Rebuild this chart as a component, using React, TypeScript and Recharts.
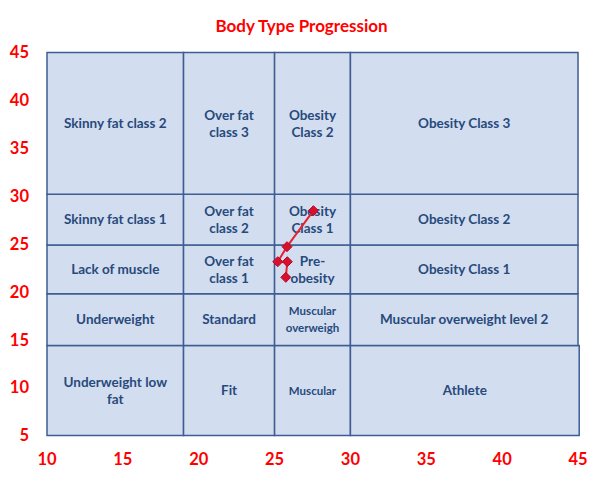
import React from "react";
import { LineChart, Line, XAxis, YAxis, ReferenceArea } from "recharts";

const TITLE = "Body Type Progression";
const X_TICKS = [10, 15, 20, 25, 30, 35, 40, 45];
const Y_TICKS = [5, 10, 15, 20, 25, 30, 35, 40, 45];
const X_BOUNDS = [10, 19, 25, 30, 45];
const Y_BOUNDS = [5, 14.4, 19.8, 24.9, 30.2, 45];
const BOTTOM_ROW_RIGHT = 45.08;

// rows listed from bottom to top, columns left to right
const ROW_LABELS: string[][][] = [
  [["Underweight low", "fat"], ["Fit"], ["Muscular"], ["Athlete"]],
  [["Underweight"], ["Standard"], ["Muscular", "overweigh"], ["Muscular overweight level 2"]],
  [["Lack of muscle"], ["Over fat", "class 1"], ["Pre-", "obesity"], ["Obesity Class 1"]],
  [["Skinny fat class 1"], ["Over fat", "class 2"], ["Obesity", "Class 1"], ["Obesity Class 2"]],
  [["Skinny fat class 2"], ["Over fat", "class 3"], ["Obesity", "Class 2"], ["Obesity Class 3"]],
];
const SMALL_LABELS = ["Muscular", "Muscular overweigh"];

const PROGRESS_X = [27.56, 25.82, 25.21, 25.84, 25.74];
const PROGRESS_Y = [28.48, 24.72, 23.15, 23.15, 21.52];

const progressData = PROGRESS_X.map((x, i) => ({ x, y: PROGRESS_Y[i] }));

const FONT = "Lato, 'Open Sans', sans-serif";
const RED = "#FF0000";
const TEXT_BLUE = "#284A7B";
const CELL_FILL = "#D2DDF0";
const CELL_STROKE = "#3E5E93";

const CellLabel = (props: any) => {
  const { viewBox, lines } = props;
  if (!viewBox) return null;
  const { x, y, width, height } = viewBox;
  const cx = x + width / 2;
  const cy = y + height / 2;
  const small = SMALL_LABELS.includes(lines.join(" "));
  const fs = small ? 11.5 : 13.5;
  const lh = 17;
  const startY = cy - ((lines.length - 1) * lh) / 2;
  return (
    <text
      textAnchor="middle"
      fontFamily={FONT}
      fontWeight="bold"
      fontSize={fs}
      fill={TEXT_BLUE}
    >
      {lines.map((l: string, i: number) => (
        <tspan key={i} x={cx} y={startY + i * lh} dy="0.35em">
          {l}
        </tspan>
      ))}
    </text>
  );
};

const Diamond = (props: any) => {
  const { cx, cy } = props;
  if (cx == null || cy == null) return null;
  const r = 5;
  return (
    <path
      d={`M${cx},${cy - r} L${cx + r},${cy} L${cx},${cy + r} L${cx - r},${cy} Z`}
      fill="#D8102E"
      stroke="#B00A28"
      strokeWidth={1}
    />
  );
};

export default function App() {
  const areas: React.ReactNode[] = [];
  ROW_LABELS.forEach((row, ri) => {
    row.forEach((lines, ci) => {
      const x2 = ri === 0 && ci === 3 ? BOTTOM_ROW_RIGHT : X_BOUNDS[ci + 1];
      areas.push(
        <ReferenceArea
          key={`${ri}-${ci}`}
          x1={X_BOUNDS[ci]}
          x2={x2}
          y1={Y_BOUNDS[ri]}
          y2={Y_BOUNDS[ri + 1]}
          fill={CELL_FILL}
          fillOpacity={1}
          stroke={CELL_STROKE}
          strokeWidth={1.5}
          ifOverflow="visible"
          label={<CellLabel lines={lines} />}
        />
      );
    });
  });

  return (
    <div style={{ position: "relative", width: 584, height: 462 }}>
      <div
        style={{
          position: "absolute",
          left: 0,
          top: 8,
          width: 587,
          textAlign: "center",
          fontFamily: FONT,
          fontWeight: "bold",
          fontSize: 17,
          lineHeight: "20px",
          color: RED,
          zIndex: 2,
        }}
      >
        {TITLE}
      </div>
      <LineChart
        width={584}
        height={462}
        data={progressData}
        margin={{ top: 44.5, right: 14, bottom: 4.5, left: 0 }}
      >
        <XAxis
          type="number"
          dataKey="x"
          domain={[10, 45]}
          ticks={X_TICKS}
          axisLine={false}
          tickLine={false}
          tickSize={0}
          tickMargin={18}
          height={30}
          tick={{ fill: RED, fontFamily: FONT, fontWeight: "bold", fontSize: 16.5 }}
          allowDataOverflow
        />
        <YAxis
          type="number"
          dataKey="y"
          domain={[5, 45]}
          ticks={Y_TICKS}
          axisLine={false}
          tickLine={false}
          tickSize={0}
          tickMargin={18}
          width={39}
          tick={{ fill: RED, fontFamily: FONT, fontWeight: "bold", fontSize: 16.5 }}
          allowDataOverflow
        />
        {areas}
        <Line
          type="linear"
          dataKey="y"
          stroke="#E8222E"
          strokeWidth={2}
          dot={<Diamond />}
          activeDot={false}
          isAnimationActive={false}
        />
      </LineChart>
    </div>
  );
}
